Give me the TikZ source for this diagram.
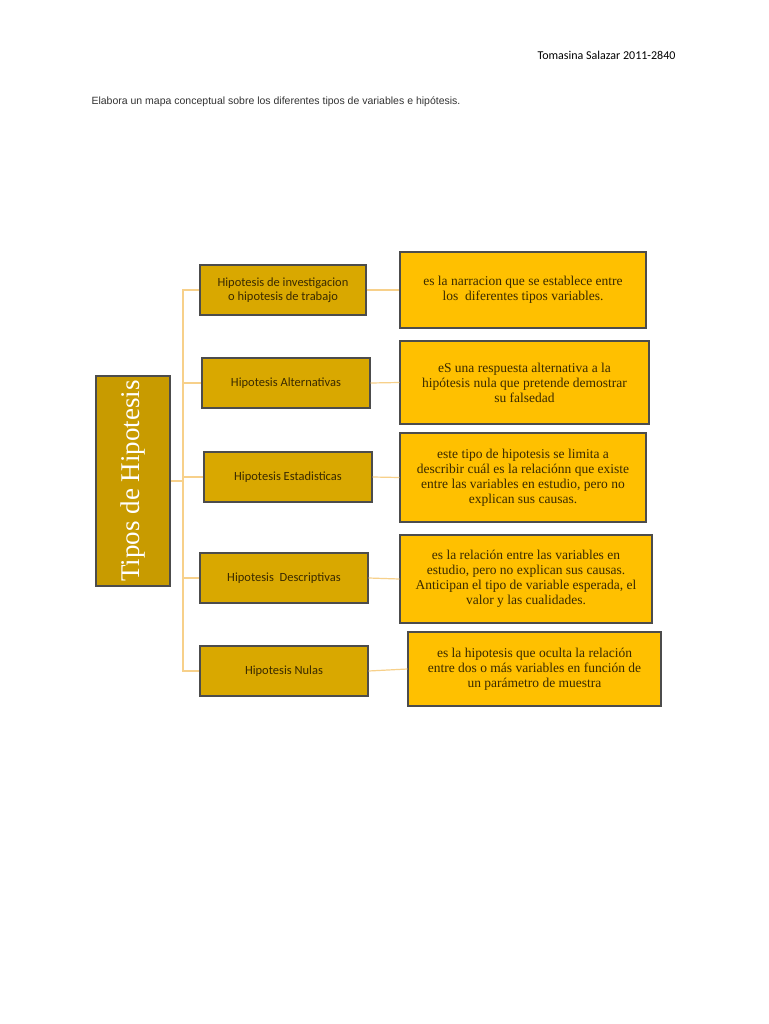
\documentclass[tikz,border=0pt]{standalone}
\usepackage{fontspec}
\setmainfont{Liberation Serif}
\newfontfamily\calfnt{Carlito}
\newfontfamily\arifnt{Liberation Sans}
\definecolor{gold}{HTML}{D9A800}
\definecolor{amber}{HTML}{FFC000}
\definecolor{rootc}{HTML}{C89B00}
\definecolor{linec}{HTML}{F7D08A}
\definecolor{txt}{HTML}{3A2A00}
\tikzset{
 lbox/.style={draw=black!70,line width=1.2pt,fill=gold,inner sep=0pt,font=\calfnt\fontsize{12.5}{14}\selectfont,text=txt,align=center},
 rbox/.style={draw=black!70,line width=1.2pt,fill=amber,inner sep=0pt,font=\fontsize{13.5}{15}\selectfont,text=txt,align=center},
 conn/.style={draw=linec,line width=1.2pt}
}
\begin{document}
\begin{tikzpicture}[x=1pt,y=-1pt]
\useasboundingbox[fill=white] (0,0) rectangle (768,1024);
\node[anchor=east,font=\calfnt\fontsize{12}{14}\selectfont] (hdr) at (679,55) {Tomasina Salazar 2011-2840};
\node[anchor=west,font=\arifnt\fontsize{10.5}{12}\selectfont,text=black!80] (task) at (88,102) {Elabora un mapa conceptual sobre los diferentes tipos de variables e hipótesis.};
\node[draw=black!70,line width=1.2pt,fill=rootc,minimum width=74,minimum height=210,inner sep=0pt] (root) at (133,481) {};
\node[rotate=90,text=white,font=\fontsize{27}{30}\selectfont] (roott) at (133,481) {Tipos de Hipotesis};
\coordinate (tr) at (183,481);
\foreach \i/\cx/\cy/\w/\t/\rx/\ry/\rw/\rh/\rt in {
 1/283/290/166/{Hipotesis de investigacion\\o hipotesis de trabajo}/523/290/246/76/{es la narracion que se establece entre\\los\ \ diferentes tipos variables.},
 2/286/383/168/{Hipotesis Alternativas}/524.5/382.5/249/83/{eS una respuesta alternativa a la\\hipótesis nula que pretende demostrar\\su falsedad},
 3/288/477/168/{Hipotesis Estadisticas}/523/477.5/246/89/{este tipo de hipotesis se limita a\\describir cuál es la relaciónn que existe\\entre las variables en estudio, pero no\\explican sus causas.},
 4/284/578/168/{Hipotesis\ \ Descriptivas}/526/579/252/88/{es la relación entre las variables en\\estudio, pero no explican sus causas.\\Anticipan el tipo de variable esperada, el\\valor y las cualidades.},
 5/284/671/168/{Hipotesis Nulas}/534.5/669/253/74/{es la hipotesis que oculta la relación\\entre dos o más variables en función de\\un parámetro de muestra}}
{
 \node[lbox,minimum width=\w,minimum height=50] (l\i) at (\cx,\cy) {\t};
 \node[rbox,minimum width=\rw,minimum height=\rh] (r\i) at (\rx,\ry) {\rt};
 \draw[conn] (l\i.east) -- (r\i.west);
}
\draw[conn] (root.east) -- (tr);
\draw[conn] (l1.west) -| (tr) |- (l5.west);
\foreach \i in {2,3,4} \draw[conn] (tr |- l\i.west) -- (l\i.west);
\end{tikzpicture}
\end{document}
